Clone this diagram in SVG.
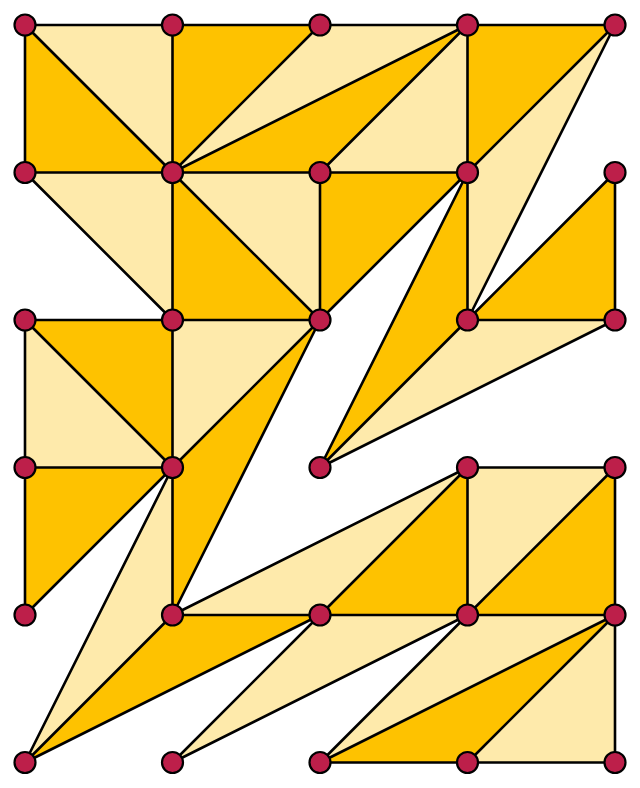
<svg xmlns="http://www.w3.org/2000/svg" width="640" height="788" viewBox="0 0 640 788">
<style>
.d{fill:#fec200}
.l{fill:#feeaab}
#connectors line{stroke:#000;stroke-width:2.6;stroke-linecap:round}
.n{fill:#bd1f4a;stroke:#000;stroke-width:2.2}
</style>
<rect width="640" height="788" fill="#fff"/>
<g id="faces">
<polygon class="l" points="25,25 172.5,25 172.5,172.5"/>
<polygon class="d" points="25,25 25,172.5 172.5,172.5"/>
<polygon class="d" points="172.5,25 320,25 172.5,172.5"/>
<polygon class="l" points="172.5,172.5 320,25 467.5,25"/>
<polygon class="d" points="172.5,172.5 467.5,25 320,172.5"/>
<polygon class="l" points="320,172.5 467.5,25 467.5,172.5"/>
<polygon class="d" points="467.5,25 615,25 467.5,172.5"/>
<polygon class="l" points="467.5,172.5 615,25 467.5,320"/>
<polygon class="l" points="25,172.5 172.5,172.5 172.5,320"/>
<polygon class="d" points="172.5,172.5 172.5,320 320,320"/>
<polygon class="l" points="172.5,172.5 320,172.5 320,320"/>
<polygon class="d" points="320,172.5 467.5,172.5 320,320"/>
<polygon class="d" points="467.5,172.5 467.5,320 320,467.5"/>
<polygon class="l" points="467.5,320 615,320 320,467.5"/>
<polygon class="d" points="467.5,320 615,172.5 615,320"/>
<polygon class="d" points="25,320 172.5,320 172.5,467.5"/>
<polygon class="l" points="25,320 25,467.5 172.5,467.5"/>
<polygon class="l" points="172.5,320 320,320 172.5,467.5"/>
<polygon class="d" points="172.5,467.5 320,320 172.5,615"/>
<polygon class="d" points="25,467.5 172.5,467.5 25,615"/>
<polygon class="l" points="172.5,467.5 25,762.5 172.5,615"/>
<polygon class="d" points="25,762.5 172.5,615 320,615"/>
<polygon class="l" points="172.5,615 467.5,467.5 320,615"/>
<polygon class="d" points="320,615 467.5,467.5 467.5,615"/>
<polygon class="l" points="467.5,467.5 615,467.5 467.5,615"/>
<polygon class="d" points="615,467.5 467.5,615 615,615"/>
<polygon class="l" points="172.5,762.5 320,615 467.5,615"/>
<polygon class="l" points="320,762.5 467.5,615 615,615"/>
<polygon class="d" points="320,762.5 615,615 467.5,762.5"/>
<polygon class="l" points="467.5,762.5 615,615 615,762.5"/>
</g>
<g id="connectors">
<line x1="25" y1="25" x2="172.5" y2="25"/>
<line x1="172.5" y1="25" x2="320" y2="25"/>
<line x1="320" y1="25" x2="467.5" y2="25"/>
<line x1="467.5" y1="25" x2="615" y2="25"/>
<line x1="25" y1="25" x2="25" y2="172.5"/>
<line x1="172.5" y1="25" x2="172.5" y2="172.5"/>
<line x1="467.5" y1="25" x2="467.5" y2="172.5"/>
<line x1="25" y1="25" x2="172.5" y2="172.5"/>
<line x1="320" y1="25" x2="172.5" y2="172.5"/>
<line x1="467.5" y1="25" x2="172.5" y2="172.5"/>
<line x1="467.5" y1="25" x2="320" y2="172.5"/>
<line x1="615" y1="25" x2="467.5" y2="172.5"/>
<line x1="615" y1="25" x2="467.5" y2="320"/>
<line x1="25" y1="172.5" x2="172.5" y2="172.5"/>
<line x1="172.5" y1="172.5" x2="320" y2="172.5"/>
<line x1="320" y1="172.5" x2="467.5" y2="172.5"/>
<line x1="25" y1="172.5" x2="172.5" y2="320"/>
<line x1="172.5" y1="172.5" x2="172.5" y2="320"/>
<line x1="172.5" y1="172.5" x2="320" y2="320"/>
<line x1="320" y1="172.5" x2="320" y2="320"/>
<line x1="467.5" y1="172.5" x2="320" y2="320"/>
<line x1="467.5" y1="172.5" x2="467.5" y2="320"/>
<line x1="467.5" y1="172.5" x2="320" y2="467.5"/>
<line x1="615" y1="172.5" x2="615" y2="320"/>
<line x1="615" y1="172.5" x2="467.5" y2="320"/>
<line x1="25" y1="320" x2="172.5" y2="320"/>
<line x1="172.5" y1="320" x2="320" y2="320"/>
<line x1="467.5" y1="320" x2="615" y2="320"/>
<line x1="615" y1="320" x2="320" y2="467.5"/>
<line x1="467.5" y1="320" x2="320" y2="467.5"/>
<line x1="25" y1="320" x2="25" y2="467.5"/>
<line x1="25" y1="320" x2="172.5" y2="467.5"/>
<line x1="172.5" y1="320" x2="172.5" y2="467.5"/>
<line x1="320" y1="320" x2="172.5" y2="467.5"/>
<line x1="320" y1="320" x2="172.5" y2="615"/>
<line x1="25" y1="467.5" x2="172.5" y2="467.5"/>
<line x1="25" y1="467.5" x2="25" y2="615"/>
<line x1="172.5" y1="467.5" x2="25" y2="615"/>
<line x1="172.5" y1="467.5" x2="25" y2="762.5"/>
<line x1="172.5" y1="467.5" x2="172.5" y2="615"/>
<line x1="172.5" y1="615" x2="25" y2="762.5"/>
<line x1="320" y1="615" x2="25" y2="762.5"/>
<line x1="172.5" y1="615" x2="467.5" y2="467.5"/>
<line x1="320" y1="615" x2="467.5" y2="467.5"/>
<line x1="467.5" y1="467.5" x2="467.5" y2="615"/>
<line x1="467.5" y1="467.5" x2="615" y2="467.5"/>
<line x1="615" y1="467.5" x2="467.5" y2="615"/>
<line x1="615" y1="467.5" x2="615" y2="615"/>
<line x1="172.5" y1="615" x2="320" y2="615"/>
<line x1="320" y1="615" x2="467.5" y2="615"/>
<line x1="467.5" y1="615" x2="615" y2="615"/>
<line x1="172.5" y1="762.5" x2="320" y2="615"/>
<line x1="172.5" y1="762.5" x2="467.5" y2="615"/>
<line x1="320" y1="762.5" x2="467.5" y2="615"/>
<line x1="320" y1="762.5" x2="615" y2="615"/>
<line x1="467.5" y1="762.5" x2="615" y2="615"/>
<line x1="615" y1="615" x2="615" y2="762.5"/>
<line x1="320" y1="762.5" x2="467.5" y2="762.5"/>
<line x1="467.5" y1="762.5" x2="615" y2="762.5"/>
</g>
<g id="nodes">
<g id="n00"><circle class="n" cx="25" cy="25" r="10.5"/></g>
<g id="n10"><circle class="n" cx="172.5" cy="25" r="10.5"/></g>
<g id="n20"><circle class="n" cx="320" cy="25" r="10.5"/></g>
<g id="n30"><circle class="n" cx="467.5" cy="25" r="10.5"/></g>
<g id="n40"><circle class="n" cx="615" cy="25" r="10.5"/></g>
<g id="n01"><circle class="n" cx="25" cy="172.5" r="10.5"/></g>
<g id="n11"><circle class="n" cx="172.5" cy="172.5" r="10.5"/></g>
<g id="n21"><circle class="n" cx="320" cy="172.5" r="10.5"/></g>
<g id="n31"><circle class="n" cx="467.5" cy="172.5" r="10.5"/></g>
<g id="n41"><circle class="n" cx="615" cy="172.5" r="10.5"/></g>
<g id="n02"><circle class="n" cx="25" cy="320" r="10.5"/></g>
<g id="n12"><circle class="n" cx="172.5" cy="320" r="10.5"/></g>
<g id="n22"><circle class="n" cx="320" cy="320" r="10.5"/></g>
<g id="n32"><circle class="n" cx="467.5" cy="320" r="10.5"/></g>
<g id="n42"><circle class="n" cx="615" cy="320" r="10.5"/></g>
<g id="n03"><circle class="n" cx="25" cy="467.5" r="10.5"/></g>
<g id="n13"><circle class="n" cx="172.5" cy="467.5" r="10.5"/></g>
<g id="n23"><circle class="n" cx="320" cy="467.5" r="10.5"/></g>
<g id="n33"><circle class="n" cx="467.5" cy="467.5" r="10.5"/></g>
<g id="n43"><circle class="n" cx="615" cy="467.5" r="10.5"/></g>
<g id="n04"><circle class="n" cx="25" cy="615" r="10.5"/></g>
<g id="n14"><circle class="n" cx="172.5" cy="615" r="10.5"/></g>
<g id="n24"><circle class="n" cx="320" cy="615" r="10.5"/></g>
<g id="n34"><circle class="n" cx="467.5" cy="615" r="10.5"/></g>
<g id="n44"><circle class="n" cx="615" cy="615" r="10.5"/></g>
<g id="n05"><circle class="n" cx="25" cy="762.5" r="10.5"/></g>
<g id="n15"><circle class="n" cx="172.5" cy="762.5" r="10.5"/></g>
<g id="n25"><circle class="n" cx="320" cy="762.5" r="10.5"/></g>
<g id="n35"><circle class="n" cx="467.5" cy="762.5" r="10.5"/></g>
<g id="n45"><circle class="n" cx="615" cy="762.5" r="10.5"/></g>
</g>
</svg>
